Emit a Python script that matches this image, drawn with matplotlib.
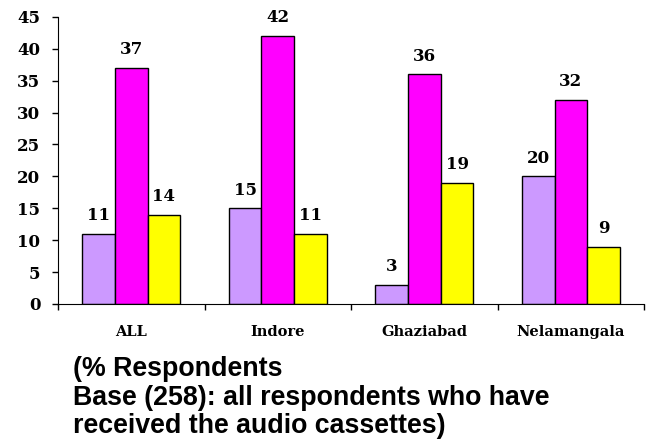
import matplotlib
matplotlib.use("Agg")
from matplotlib import pyplot as plt
import numpy as np

places = ["ALL", "Indore", "Ghaziabad", "Nelamangala"]
series_a = [11, 15, 3, 20]
series_b = [37, 42, 36, 32]
series_c = [14, 11, 19, 9]
colors = ["#CC99FF", "#FF00FF", "#FFFF00"]
yticks = list(range(0, 46, 5))

fig = plt.figure(figsize=(6.52, 4.45), dpi=100)
ax = fig.add_axes([0.089, 0.317, 0.899, 0.645])

serif = "DejaVu Serif"
x = np.arange(len(places))
w = 0.223
for i, (vals, c) in enumerate(zip([series_a, series_b, series_c], colors)):
    bars = ax.bar(x + (i - 1) * w, vals, w, color=c, edgecolor="black", linewidth=1.0)
    for b, v in zip(bars, vals):
        ax.text(b.get_x() + b.get_width() / 2, v + 1.5, str(v), ha="center", va="bottom",
                fontsize=12, fontweight="bold", family=serif)

ax.set_xlim(-0.5, 3.5)
ax.set_ylim(0, 45)
ax.set_yticks(yticks)
ax.set_yticklabels([str(v) for v in yticks], fontsize=12, fontweight="bold", family=serif)
ax.set_xticks(np.arange(-0.5, 4, 1))
ax.set_xticklabels([])
ax.tick_params(axis="y", length=4.3, width=1, pad=8.5)
ax.tick_params(axis="x", length=4.3, width=1)
for i, name in enumerate(places):
    ax.text(i, -4.4, name, ha="center", va="center",
            fontsize=10.5, fontweight="bold", family=serif)
ax.spines["top"].set_visible(False)
ax.spines["right"].set_visible(False)

fig.text(73 / 652, 1 - 356 / 445,
         "(% Respondents\nBase (258): all respondents who have\nreceived the audio cassettes)",
         ha="left", va="top", fontsize=19.3, fontweight="bold", family="Liberation Sans",
         linespacing=1.13)

fig.savefig("out.png", dpi=100)
